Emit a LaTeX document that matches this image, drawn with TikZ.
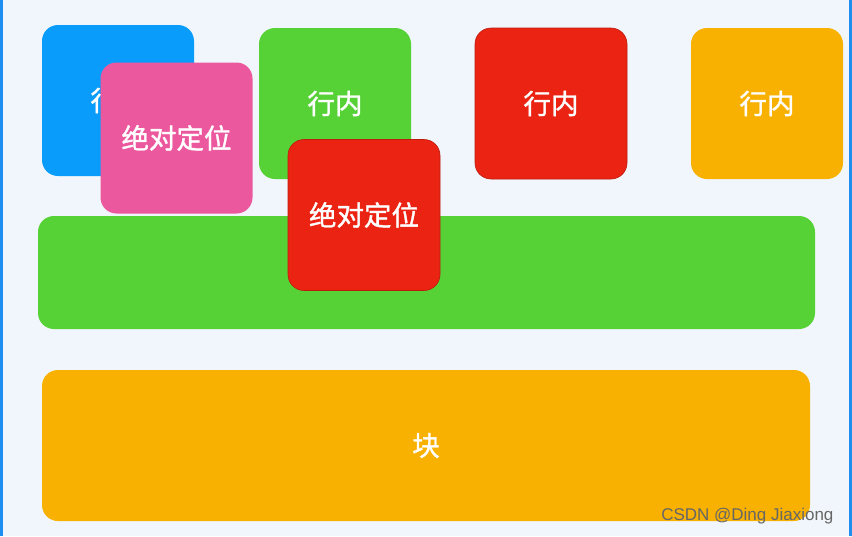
\documentclass[tikz,border=0pt]{standalone}
\usepackage{fontspec}
\newfontfamily\cjk[FakeBold=1.3]{Noto Sans CJK SC}
\setsansfont{Liberation Sans}
\definecolor{bgc}{HTML}{F0F6FB}
\definecolor{edgeblue}{HTML}{1E8EF0}
\definecolor{boxblue}{HTML}{0A9CFB}
\definecolor{boxpink}{HTML}{EC589E}
\definecolor{boxgreen}{HTML}{56D236}
\definecolor{boxred}{HTML}{EB2312}
\definecolor{boxorange}{HTML}{F8B100}
\usetikzlibrary{positioning}

\begin{document}
\begin{tikzpicture}[x=1pt,y=-1pt,
    box/.style={rounded corners=16pt,inner sep=0pt,text=white,
      font=\cjk\fontsize{27.5}{27.5}\selectfont,
      minimum width=152pt,minimum height=151pt},
    bar/.style={box,minimum width=#1,minimum height=113pt},
    wmark/.style={font=\sffamily\fontsize{17}{17}\selectfont,text=gray!80!black}]
 % page
 \fill[bgc] (0,0) rectangle (852,536);
 \fill[edgeblue] (0,0) rectangle (3,536);
 \fill[edgeblue] (849,0) rectangle (852,536);
 \useasboundingbox (0,0) rectangle (852,536);
 % inline boxes
 \node[box,fill=boxblue] (in1) at (118,100.5) {行内};
 \node[box,fill=boxgreen] (in2) at (335,103.5) {行内};
 \node[box,fill=boxred,draw=boxred!80!black,line width=0.6pt] (in3) at (551,103.5) {行内};
 \node[box,fill=boxorange] (in4) at (767,103.5) {行内};
 % absolute boxes
 \node[box,fill=boxpink] (abs1) at (176.5,138) {绝对定位};
 \node[bar=777pt,fill=boxgreen] (row) at (426.5,272.5) {};
 \node[box,fill=boxred,draw=boxred!80!black,line width=0.6pt] (abs2) at (364,215) {绝对定位};
 % block
 \node[box,fill=boxorange,minimum width=768pt] (blk) at (426,445.5) {块};
 \node[wmark,anchor=east] (wm) at (837,516) {CSDN @Ding Jiaxiong};
\end{tikzpicture}
\end{document}
